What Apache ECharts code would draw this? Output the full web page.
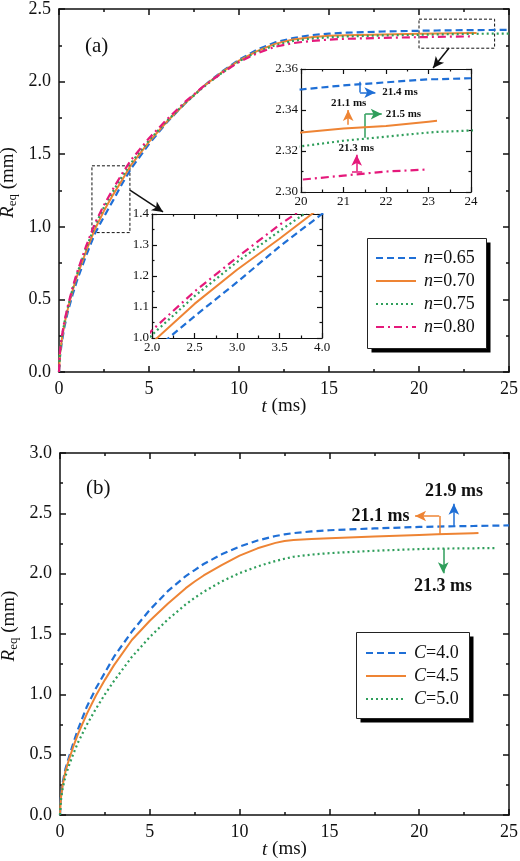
<!DOCTYPE html>
<html>
<head>
<meta charset="utf-8">
<title>Req vs t</title>
<script src="https://cdn.jsdelivr.net/npm/echarts@6/dist/echarts.min.js"></script>
</head>
<body style="margin:0;background:#fff">
<div id="main" style="width:520px;height:861px;"></div>
<script type="text/javascript">
// panel (a): R_eq (mm) against t (ms) for four n values
var timeA = [0, 0.05, 0.15, 0.3, 0.5, 0.75, 1, 1.5, 2, 2.5, 3, 3.5, 4, 5, 6, 7, 8, 9, 10, 11, 12, 13, 14, 15, 16, 18, 20, 21, 22, 23, 23.2, 24, 25];
var n065 = [0, 0.10, 0.20, 0.31, 0.42, 0.53, 0.63, 0.80, 0.955, 1.07, 1.18, 1.295, 1.40, 1.57, 1.72, 1.85, 1.965, 2.065, 2.15, 2.22, 2.27, 2.30, 2.32, 2.33, 2.337, 2.345, 2.350, 2.352, 2.3535, 2.355, 2.355, 2.3555, 2.356];
var n070 = [0, 0.12, 0.22, 0.33, 0.44, 0.56, 0.66, 0.83, 0.985, 1.11, 1.22, 1.32, 1.425, 1.585, 1.725, 1.85, 1.965, 2.06, 2.145, 2.21, 2.26, 2.29, 2.305, 2.315, 2.32, 2.325, 2.329, 2.331, 2.3322, 2.3343, 2.3347, null, null];
var n075 = [0, 0.13, 0.23, 0.34, 0.45, 0.57, 0.675, 0.85, 1.01, 1.135, 1.245, 1.345, 1.44, 1.595, 1.73, 1.85, 1.96, 2.055, 2.14, 2.205, 2.25, 2.28, 2.296, 2.305, 2.311, 2.318, 2.3223, 2.325, 2.327, 2.329, 2.3293, 2.330, 2.331];
var n080 = [0, 0.14, 0.24, 0.35, 0.46, 0.58, 0.685, 0.865, 1.025, 1.15, 1.26, 1.365, 1.46, 1.61, 1.74, 1.86, 1.965, 2.055, 2.135, 2.195, 2.24, 2.265, 2.28, 2.289, 2.295, 2.301, 2.306, 2.308, 2.310, 2.311, null, null, null];
var namesA = ['n=0.65', 'n=0.70', 'n=0.75', 'n=0.80'];

// panel (b): three C values
var timeB = [0, 0.05, 0.15, 0.3, 0.5, 0.75, 1, 1.5, 2, 2.5, 3, 4, 5, 6, 7, 7.5, 8, 9, 10, 11, 12, 12.5, 13, 14, 15, 17.5, 20, 21, 22, 23, 23.3, 24.2, 25];
var c40 = [0, 0.15, 0.27, 0.38, 0.48, 0.60, 0.71, 0.90, 1.05, 1.18, 1.31, 1.52, 1.70, 1.855, 1.98, 2.03, 2.08, 2.16, 2.225, 2.275, 2.312, 2.326, 2.336, 2.35, 2.36, 2.375, 2.387, 2.39, 2.393, 2.395, 2.396, 2.398, 2.40];
var c45 = [0, 0.14, 0.25, 0.36, 0.46, 0.57, 0.67, 0.84, 0.99, 1.12, 1.24, 1.45, 1.61, 1.75, 1.88, 1.935, 1.985, 2.07, 2.15, 2.21, 2.255, 2.271, 2.279, 2.287, 2.294, 2.308, 2.321, 2.326, 2.330, 2.334, 2.336, null, null];
var c50 = [0, 0.12, 0.22, 0.32, 0.41, 0.51, 0.60, 0.75, 0.88, 1.0, 1.11, 1.31, 1.475, 1.62, 1.745, 1.80, 1.85, 1.935, 2.005, 2.06, 2.105, 2.124, 2.14, 2.158, 2.17, 2.19, 2.204, 2.207, 2.209, 2.21, 2.211, 2.212, null];
var namesB = ['C=4.0', 'C=4.5', 'C=5.0'];

var FONT = 'Liberation Serif';
var BLUE = '#1f6fd6', ORANGE = '#ee8434', GREEN = '#2f9e5b', MAGENTA = '#e5197b';
var styles = [
    {color: BLUE, width: 2.2, type: [7, 4]},
    {color: ORANGE, width: 2, type: 'solid'},
    {color: GREEN, width: 2.2, type: [2, 3]},
    {color: MAGENTA, width: 2.2, type: [8, 4, 2, 4]}
];

function pairs(ts, vs) {
    var out = [];
    for (var i = 0; i < ts.length; i++) {
        if (vs[i] != null) out.push([ts[i], vs[i]]);
    }
    return out;
}

// one labelled axis plus a bare mirror on the opposite side
function axisPair(dim, grid, min, max, step, s) {
    var common = {
        type: 'value', gridIndex: grid, min: min, max: max, interval: step, z: s.z || 0,
        axisLine: {show: true, onZero: false, lineStyle: {color: '#111', width: s.lw}},
        axisTick: {show: true, inside: true, length: s.tick, lineStyle: {color: '#111', width: s.lw}},
        minorTick: {show: true, splitNumber: 2, length: s.tick / 2, lineStyle: {color: '#111', width: s.lw}},
        splitLine: {show: false}
    };
    var main = Object.assign({}, common, {
        position: dim === 'x' ? 'bottom' : 'left',
        axisLabel: {
            show: true, margin: s.margin, fontFamily: FONT, fontSize: s.fs, color: '#111',
            showMinLabel: true, showMaxLabel: true, hideOverlap: false,
            formatter: function (v) { return v.toFixed(s.dec); }
        }
    });
    if (s.name) {
        main.name = s.name;
        main.nameLocation = 'middle';
        main.nameGap = s.nameGap;
        main.nameRotate = dim === 'y' ? 90 : 0;
        main.nameMoveOverlap = false;
        main.nameTextStyle = {
            fontFamily: FONT, fontSize: 19, color: '#111',
            padding: dim === 'y' ? [0, 0, 0, 16] : 0,
            rich: {
                i: {fontFamily: FONT, fontSize: 19, fontStyle: 'italic', color: '#111'},
                s: {fontFamily: FONT, fontSize: 13, color: '#111', padding: [9, 0, 0, 0]},
                r: {fontFamily: FONT, fontSize: 19, color: '#111'}
            }
        };
    }
    var mirror = Object.assign({}, common, {position: dim === 'x' ? 'top' : 'right', axisLabel: {show: false}});
    return [main, mirror];
}

var big = {lw: 1.5, tick: 6, margin: 8, fs: 18};
var small = {lw: 1.2, tick: 5, margin: 3, fs: 13, z: 6};
var xAxes = [].concat(
    axisPair('x', 0, 0, 25, 5, Object.assign({dec: 0, name: '{i|t}{r| (ms)}', nameGap: 25}, big)),
    axisPair('x', 1, 20, 24, 1, Object.assign({dec: 0}, small)),
    axisPair('x', 2, 2, 4, 0.5, Object.assign({dec: 1}, small)),
    axisPair('x', 3, 0, 25, 5, Object.assign({dec: 0, name: '{i|t}{r| (ms)}', nameGap: 25}, big))
);
var yAxes = [].concat(
    axisPair('y', 0, 0, 2.5, 0.5, Object.assign({dec: 1, name: '{i|R}{s|eq}{r| (mm)}', nameGap: 40}, big)),
    axisPair('y', 1, 2.30, 2.36, 0.02, Object.assign({dec: 2}, small)),
    axisPair('y', 2, 1.0, 1.4, 0.1, Object.assign({dec: 1}, small)),
    axisPair('y', 3, 0, 3.0, 0.5, Object.assign({dec: 1, name: '{i|R}{s|eq}{r| (mm)}', nameGap: 40}, big))
);

// grid g owns axes 2g (labelled) and 2g+1 (mirror)
function line(name, data, st, grid, z) {
    return {
        name: name, type: 'line', xAxisIndex: grid * 2, yAxisIndex: grid * 2, data: data,
        symbol: 'none', showSymbol: false, smooth: false, clip: true, silent: true,
        z: z, color: st.color,
        lineStyle: {color: st.color, width: st.width, type: st.type, cap: 'butt', join: 'round'}
    };
}

function arrow(coordA, coordB, color, head) {
    return [
        {coord: coordA, symbol: 'none'},
        {coord: coordB, symbol: head ? 'arrow' : 'none', symbolSize: [8, 11], lineStyle: {color: color}}
    ];
}
function marks(color, segs) {
    return {
        silent: true, symbol: ['none', 'none'], animation: false,
        label: {show: false}, emphasis: {disabled: true},
        lineStyle: {color: color, width: 1.5, type: 'solid'},
        data: segs
    };
}
function tags(items, fs) {
    return {
        silent: true, symbol: 'rect', symbolSize: 1, itemStyle: {color: 'rgba(0,0,0,0)'},
        label: {show: true, fontFamily: FONT, fontWeight: 'bold', fontSize: fs, color: '#111'},
        data: items.map(function (it) {
            return {coord: it[0], label: {position: it[2], distance: 0, formatter: it[1]}};
        })
    };
}

var valsA = [n065, n070, n075, n080];
var valsB = [c40, c45, c50];
var series = [];

// main panel (a)
valsA.forEach(function (v, k) {
    series.push(line(namesA[k], pairs(timeA, v), styles[k], 0, 2));
});
// zoom boxes and their pointers on panel (a)
series[0].markArea = {
    silent: true,
    itemStyle: {color: 'rgba(0,0,0,0)', borderColor: '#111', borderWidth: 1, borderType: [3, 2]},
    data: [
        [{coord: [20, 2.43]}, {coord: [24.2, 2.23]}],
        [{coord: [1.83, 1.42]}, {coord: [3.94, 0.96]}]
    ]
};
series[0].markLine = marks('#111', [
    arrow([21.67, 2.231], [20.78, 2.094], '#111', true),
    arrow([3.94, 1.253], [5.78, 1.102], '#111', true)
]);

// inset 1 (t 20-24)
valsA.forEach(function (v, k) {
    series.push(line(namesA[k], pairs(timeA, v), styles[k], 1, 8));
});
series[4].markLine = marks(BLUE, [
    arrow([21.39, 2.3538], [21.39, 2.3485], BLUE, false),
    arrow([21.39, 2.3485], [21.75, 2.3485], BLUE, true)
]);
series[5].markLine = marks(ORANGE, [arrow([21.11, 2.3328], [21.11, 2.3400], ORANGE, true)]);
series[6].markLine = marks(GREEN, [
    arrow([21.51, 2.3265], [21.51, 2.3380], GREEN, false),
    arrow([21.51, 2.3380], [21.90, 2.3380], GREEN, true)
]);
series[7].markLine = marks(MAGENTA, [
    arrow([21.20, 2.3101], [21.44, 2.3101], MAGENTA, false),
    arrow([21.31, 2.3101], [21.31, 2.3182], MAGENTA, true)
]);
series[4].markPoint = tags([
    [[21.90, 2.3485], '21.4 ms', 'right'],
    [[21.12, 2.3433], '21.1 ms', 'inside'],
    [[21.98, 2.3380], '21.5 ms', 'right'],
    [[21.30, 2.3212], '21.3 ms', 'inside']
], 11);

// inset 2 (t 2-4)
valsA.forEach(function (v, k) {
    series.push(line(namesA[k], pairs(timeA, v), styles[k], 2, 8));
});

// panel (b)
valsB.forEach(function (v, k) {
    series.push(line(namesB[k], pairs(timeB, v), styles[k], 3, 2));
});
var b0 = series[12], b1 = series[13], b2 = series[14];
b0.markLine = marks(BLUE, [arrow([21.93, 2.39], [21.93, 2.58], BLUE, true)]);
b1.markLine = marks(ORANGE, [
    arrow([21.12, 2.327], [21.12, 2.478], ORANGE, false),
    arrow([21.12, 2.478], [19.77, 2.478], ORANGE, true)
]);
b2.markLine = marks(GREEN, [arrow([21.34, 2.208], [21.34, 2.003], GREEN, true)]);
b0.markPoint = tags([
    [[21.94, 2.68], '21.9 ms', 'inside'],
    [[19.49, 2.478], '21.1 ms', 'left'],
    [[21.33, 1.892], '21.3 ms', 'inside']
], 18);

function legendBox(names, left, top, pad) {
    return {
        data: names, orient: 'vertical', left: left, top: top, padding: pad, z: 10,
        itemWidth: 40, itemHeight: 14, itemGap: 5, selectedMode: false,
        itemStyle: {opacity: 0},
        textStyle: {
            fontFamily: FONT, fontSize: 18, color: '#111', lineHeight: 18,
            rich: {
                i: {fontFamily: FONT, fontSize: 18, fontStyle: 'italic', color: '#111', padding: [0, 0, 0, 3]},
                r: {fontFamily: FONT, fontSize: 18, color: '#111'}
            }
        },
        formatter: function (name) { return '{i|' + name.charAt(0) + '}{r|' + name.slice(1) + '}'; }
    };
}
// framed legend panel with a solid drop shadow
function frame(x, y, w, h) {
    return [
        {type: 'rect', z: 1, shape: {x: x + 4, y: y + 4, width: w, height: h}, style: {fill: '#000'}},
        {type: 'rect', z: 2, shape: {x: x, y: y, width: w, height: h}, style: {fill: '#fff', stroke: '#222', lineWidth: 1}}
    ];
}

var myChart = echarts.init(document.getElementById('main'));
myChart.setOption({
    animation: false,
    backgroundColor: '#fff',
    textStyle: {fontFamily: FONT},
    grid: [
        {left: 59, top: 9, width: 450, height: 363, outerBoundsMode: 'none'},
        {left: 301, top: 69, width: 170, height: 123, show: true, backgroundColor: '#fff', borderWidth: 0, z: 5, outerBoundsMode: 'none'},
        {left: 152, top: 214, width: 170, height: 124, show: true, backgroundColor: '#fff', borderWidth: 0, z: 5, outerBoundsMode: 'none'},
        {left: 60, top: 453, width: 449, height: 362, outerBoundsMode: 'none'}
    ],
    xAxis: xAxes,
    yAxis: yAxes,
    legend: [
        legendBox(namesA, 367, 238, [11, 11, 11, 8]),
        legendBox(namesB, 356, 633, [11, 12, 11, 9])
    ],
    graphic: [].concat(
        frame(367.5, 238.5, 119, 110),
        frame(356.5, 632.5, 113, 86),
        [
            {type: 'text', left: 85, top: 36, style: {text: '(a)', font: '21px "Liberation Serif"', fill: '#111'}},
            {type: 'text', left: 86, top: 478, style: {text: '(b)', font: '21px "Liberation Serif"', fill: '#111'}}
        ]
    ),
    series: series
});
</script>
</body>
</html>
